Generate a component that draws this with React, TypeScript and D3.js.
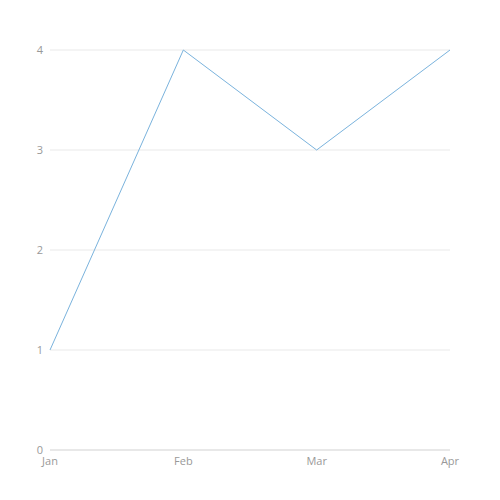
import React, { useRef, useEffect } from "react";
import * as d3 from "d3";

const months = ["Jan", "Feb", "Mar", "Apr"];
const values = [1, 4, 3, 4];
const yTicks = [0, 1, 2, 3, 4];

export default function App() {
  const svgRef = useRef<SVGSVGElement | null>(null);

  useEffect(() => {
    const svg = svgRef.current;
    if (!svg) return;
    const W = 500;
    const H = 500;
    const M = { l: 50, r: 50, t: 50, b: 50 };

    const x = d3.scalePoint<string>().domain(months).range([M.l, W - M.r]);
    const y = d3.scaleLinear().domain([0, 4]).range([H - M.b, M.t]);

    const sel = d3.select(svg);
    sel.selectAll("*").remove();

    // grid
    sel
      .append("g")
      .selectAll("line")
      .data(yTicks.filter((t) => t !== 0))
      .enter()
      .append("line")
      .attr("x1", M.l)
      .attr("x2", W - M.r)
      .attr("y1", (d) => y(d))
      .attr("y2", (d) => y(d))
      .attr("stroke", "#e9e9e9")
      .attr("stroke-width", 1);

    // baseline
    sel
      .append("line")
      .attr("x1", M.l)
      .attr("x2", W - M.r)
      .attr("y1", y(0))
      .attr("y2", y(0))
      .attr("stroke", "#e0e0e0")
      .attr("stroke-width", 1.5);

    // y labels
    sel
      .append("g")
      .selectAll("text")
      .data(yTicks)
      .enter()
      .append("text")
      .attr("x", M.l - 7)
      .attr("y", (d) => y(d))
      .attr("dy", "0.35em")
      .attr("text-anchor", "end")
      .attr("fill", "#999")
      .attr("font-size", 11)
      .attr("font-family", "'Open Sans', sans-serif")
      .text((d) => d);

    // x labels
    sel
      .append("g")
      .selectAll("text")
      .data(months)
      .enter()
      .append("text")
      .attr("x", (d) => x(d) as number)
      .attr("y", y(0) + 15)
      .attr("text-anchor", "middle")
      .attr("fill", "#999")
      .attr("font-size", 11)
      .attr("font-family", "'Open Sans', sans-serif")
      .text((d) => d);

    const line = d3
      .line<number>()
      .x((_, i) => x(months[i]) as number)
      .y((d) => y(d));

    sel
      .append("path")
      .datum(values)
      .attr("d", line)
      .attr("fill", "none")
      .attr("stroke", "#7ab3dd")
      .attr("stroke-width", 1);
  }, []);

  return (
    <svg
      ref={svgRef}
      width={500}
      height={500}
      style={{ position: "fixed", top: 0, left: 0, background: "#fff" }}
    />
  );
}
